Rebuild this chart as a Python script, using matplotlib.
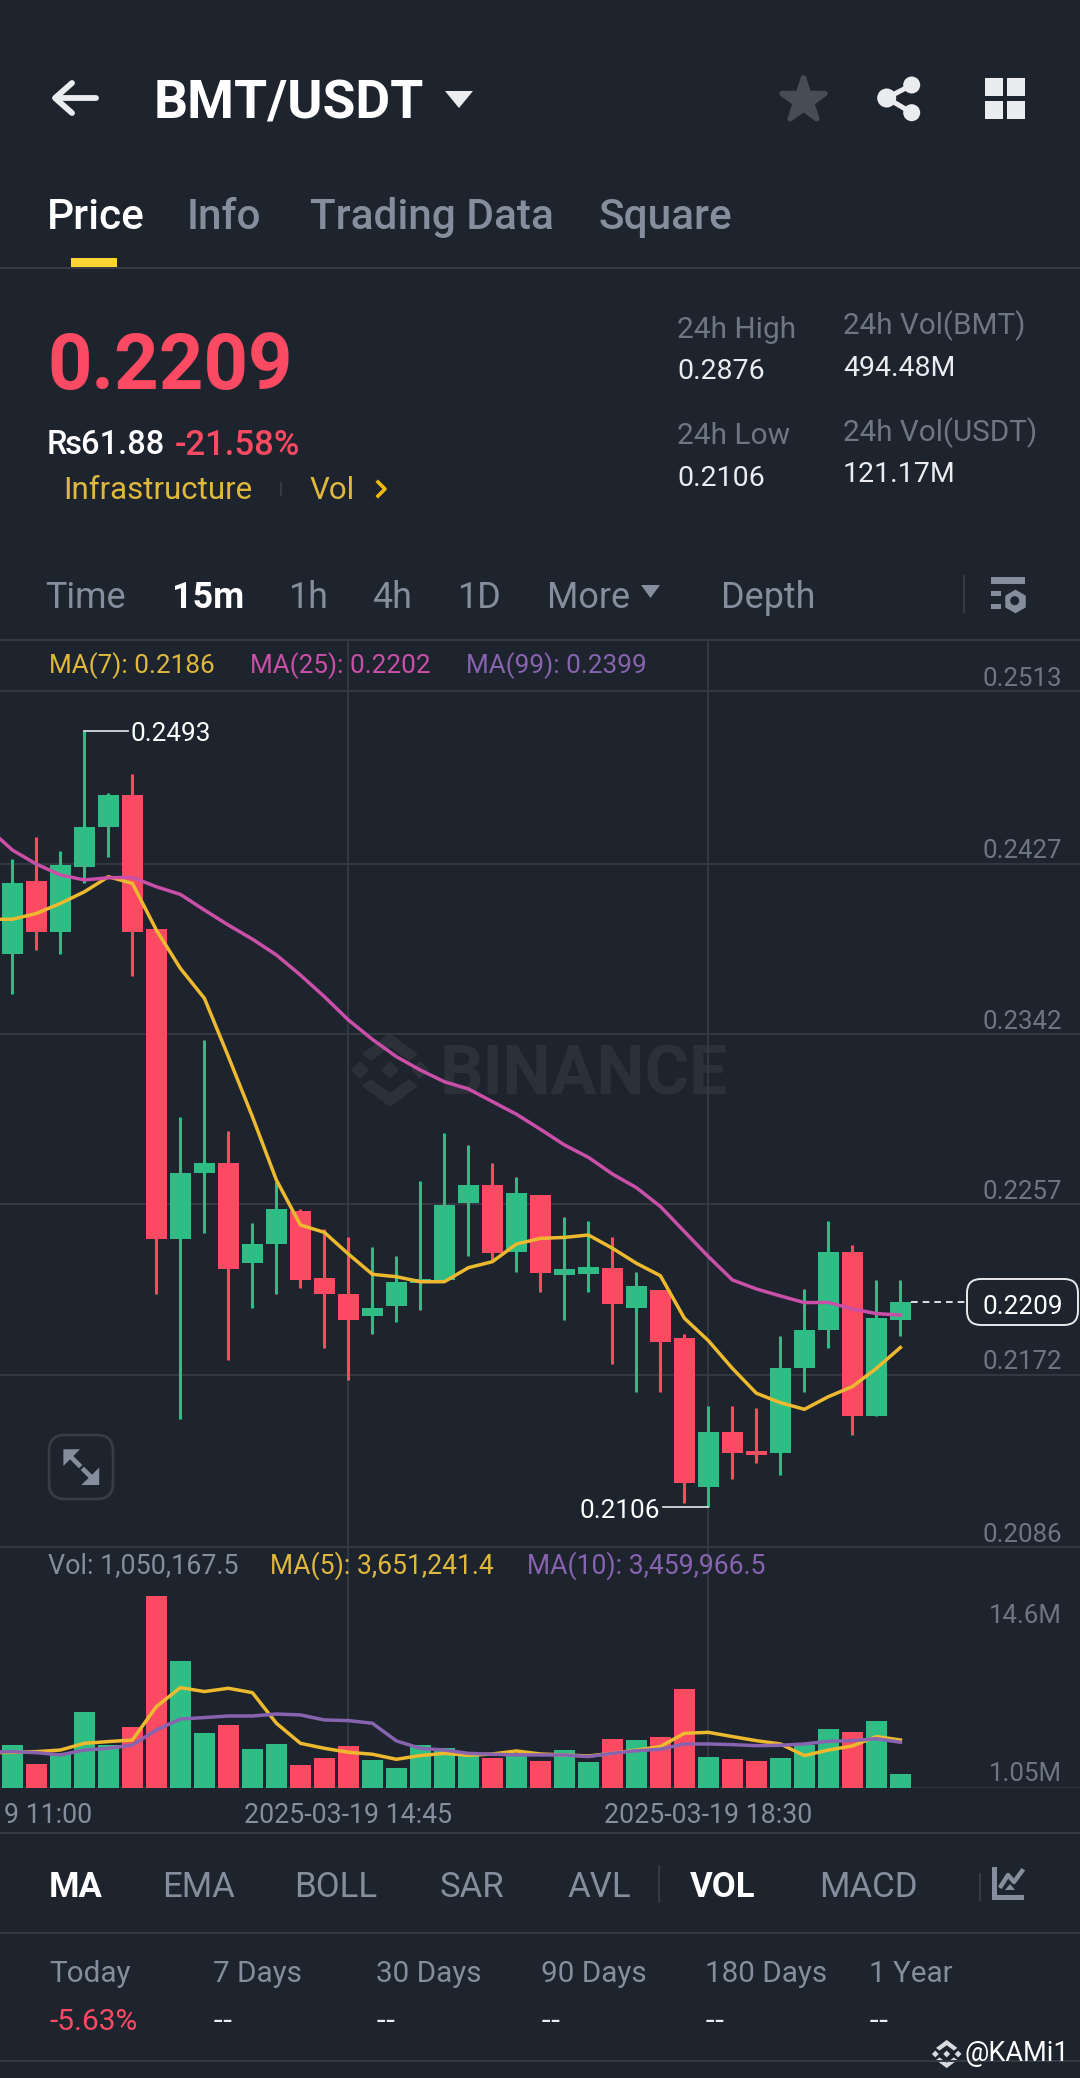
import numpy as np
import matplotlib
matplotlib.use("Agg")
import matplotlib.pyplot as plt
from matplotlib.patches import FancyBboxPatch, Polygon, Circle

plt.rcParams["font.family"] = ["Roboto", "DejaVu Sans"]

# candles (15m)
open_ = [.23819, .24183, .23930, .24252, .24453, .24613, .23942, .22398, .22729, .22777,
         .22277, .22375, .22536, .22205, .22126, .22014, .22066, .22181, .22194, .22576,
         .22666, .22335, .22617, .22217, .22225, .22255, .22056, .22144, .21905, .21163,
         .21434, .21343, .21333, .21755, .21944, .22335, .21514, .21994]
high = [.24292, .24404, .24332, .2493, .24623, .24714, .23942, .23008, .23390, .22938,
        .22476, .22684, .22546, .22446, .22406, .22356, .22315, .22687, .22928, .22867,
        .22777, .22707, .22617, .22508, .22488, .22408, .22235, .22144, .21923, .21564,
        .21564, .21554, .21914, .22147, .22488, .22366, .22194, .22194]
low = [.23619, .23839, .23819, .24171, .24301, .23711, .22124, .21501, .22426, .21795,
       .22054, .22124, .22155, .21855, .21695, .21923, .21984, .22044, .22194, .22315,
       .22285, .22234, .22132, .21994, .22132, .21773, .21635, .21635, .21084, .2106,
       .21202, .21281, .21222, .21635, .21853, .21423, .21514, .21914]
close = [.24171, .23930, .24261, .24453, .24613, .23930, .22398, .22729, .22777, .22247,
         .22375, .22546, .22195, .22126, .21996, .22054, .22185, .22199, .22566, .22666,
         .22327, .22626, .22227, .22247, .22257, .22076, .22165, .21886, .21183, .21434,
         .21333, .21323, .21753, .21944, .22335, .21514, .22004, .22086]

# moving averages start one candle left of the screen
ma7 = [.23992, .23992, .24021, .24071, .24129, .24204, .24171, .23938, .23747, .23598,
       .23307, .23008, .22692, .22468, .22431, .22323, .22222, .2221, .22185, .22185,
       .22255, .22285, .22373, .22401, .22406, .22418, .22352, .22277, .22215, .22003,
       .21891, .21753, .21629, .21582, .21549, .21612, .21662, .21753, .21857]
ma25 = [.24445, .24337, .24267, .24213, .24188, .24199, .24201, .24154, .24116, .24038,
        .23963, .23893, .23814, .23714, .23606, .2349, .23393, .23307, .2324, .23182,
        .23146, .23083, .2302, .22945, .22867, .22805, .22722, .22654, .2256, .22435,
        .2231, .22194, .22149, .22114, .22081, .22082, .22049, .22026, .22019]

# volume in millions
volume = [3.28, 1.84, 2.65, 5.76, 3.28, 4.62, 14.6, 9.62, 4.22, 4.80, 2.96, 3.36, 1.77,
          2.30, 3.23, 2.15, 1.54, 3.28, 3.08, 2.65, 2.30, 2.65, 2.05, 2.90, 2.02, 3.74,
          3.64, 3.92, 7.50, 2.35, 2.25, 2.07, 2.32, 3.28, 4.47, 4.29, 5.10, 1.05]
vol_ma5 = [2.70, 2.72, 2.78, 2.90, 3.41, 3.54, 3.66, 6.19, 7.63, 7.33, 7.58, 7.25, 4.93,
           3.41, 3.03, 2.73, 2.58, 2.20, 2.48, 2.65, 2.50, 2.60, 2.83, 2.60, 2.53, 2.45,
           2.65, 2.90, 3.16, 4.17, 4.24, 3.92, 3.61, 3.36, 2.48, 2.90, 3.21, 3.92, 3.66]
vol_ma10 = [2.73, 2.78, 2.70, 2.53, 2.90, 3.03, 3.28, 4.42, 5.25, 5.36, 5.48, 5.48, 5.63,
            5.56, 5.18, 5.13, 4.93, 3.59, 3.03, 2.90, 2.65, 2.58, 2.53, 2.53, 2.53, 2.40,
            2.65, 2.85, 2.96, 3.36, 3.36, 3.31, 3.23, 3.26, 3.36, 3.56, 3.61, 3.76, 3.49]

price_ticks = [0.2513, 0.2427, 0.2342, 0.2257, 0.2172, 0.2086]
vol_ticks = [14.6, 1.05]
vol_tick_labels = ["14.6M", "1.05M"]
time_ticks = [-1, 14, 29]
time_labels = ["2025-03-19 11:00", "2025-03-19 14:45", "2025-03-19 18:30"]

tabs = ["Price", "Info", "Trading Data", "Square"]
intervals = ["Time", "15m", "1h", "4h", "1D", "More", "Depth"]
indicators = ["MA", "EMA", "BOLL", "SAR", "AVL", "VOL", "MACD"]
periods = ["Today", "7 Days", "30 Days", "90 Days", "180 Days", "1 Year"]
period_values = ["-5.63%", "--", "--", "--", "--", "--"]

BG = "#1E242E"
GREEN = "#2EBD85"
RED = "#FB4A62"
YELLOW = "#F0B90B"
LINE_Y = "#EDB92E"
MAGENTA = "#C94FA8"
PURPLE = "#8863B0"
GRID = "#353B45"
GRAY = "#848E9C"
DIM = "#6F7683"
WHITE = "#FFFFFF"
ICON = "#EAECEF"

W, H = 1080, 2078
fig = plt.figure(figsize=(W / 100, H / 100), dpi=100, facecolor=BG)


def px_axes(top, bottom, z):
    a = fig.add_axes([0, 1 - bottom / H, 1, (bottom - top) / H], zorder=z)
    a.patch.set_visible(False)
    a.axis("off")
    return a


# under layer for the watermark, top layer for the screen furniture
under = px_axes(0, H, 0)
under.set_xlim(0, W)
under.set_ylim(H, 0)
ui = px_axes(0, H, 3)
ui.set_xlim(0, W)
ui.set_ylim(H, 0)


def label(x, y, s, size=22, color=GRAY, ha="left", weight="normal", family=None):
    ui.text(x, y + 6.5, s, fontsize=size, color=color, ha=ha, va="center", fontweight=weight,
            family=family)


def poly(pts, color, a=ui):
    a.add_patch(Polygon(pts, closed=True, facecolor=color, edgecolor="none"))


def logo(cx, cy, k, color, a):
    # exchange mark: three small diamonds and two chevrons
    for dx in (-30, 0, 30):
        poly([(cx + (dx - 9) * k, cy), (cx + dx * k, cy - 9 * k),
              (cx + (dx + 9) * k, cy), (cx + dx * k, cy + 9 * k)], color, a)
    for sign in (-1, 1):
        poly([(cx, cy + sign * 37 * k), (cx + 28 * k, cy + sign * 16 * k),
              (cx + 19 * k, cy + sign * 9 * k), (cx, cy + sign * 23 * k),
              (cx - 19 * k, cy + sign * 9 * k), (cx - 28 * k, cy + sign * 16 * k)], color, a)


# watermark
WM = "#2B3039"
under.text(440, 1076, "BINANCE", fontsize=49, color=WM, fontweight="bold", va="center")
logo(390, 1070, 1, WM, under)

# price panel
xlim = (-12.4 / 24, (W - 12.4) / 24)
ax = px_axes(640, 1547.5, 1)
ax.set_xlim(*xlim)
per_px = (0.2513 - 0.2086) / (1547.5 - 691)
ax.set_ylim(0.2086, 0.2513 + (691 - 640) * per_px)

x = np.arange(len(close))
ma_x = np.arange(-1, len(close))
op, hi, lo, cl = map(np.array, (open_, high, low, close))
colors = [GREEN if c >= o else RED for o, c in zip(op, cl)]

for p in price_ticks:
    ax.axhline(p, color=GRID, lw=1.3, zorder=1)
    ax.text(1062 / W, p + 0.5 * per_px, f"{p:.4f}", transform=ax.get_yaxis_transform(),
            fontsize=18.6, color=DIM, ha="right", va="bottom")
for t in time_ticks:
    ax.axvline(t, color=GRID, lw=1.3, zorder=1)

ax.vlines(x, lo, hi, colors=colors, lw=2.2, zorder=2)
ax.bar(x, np.abs(cl - op), bottom=np.minimum(op, cl), width=0.875, color=colors, zorder=3)
ax.plot(ma_x, ma7, color=LINE_Y, lw=2.5, zorder=4, solid_joinstyle="round")
ax.plot(ma_x, ma25, color=MAGENTA, lw=2.5, zorder=5, solid_joinstyle="round")

# high / low flags
i_hi, i_lo = int(np.argmax(hi)), int(np.argmin(lo))
ax.plot([i_hi, i_hi + 1.83], [hi[i_hi]] * 2, color="#D8DADD", lw=1.3, zorder=6)
ax.text(i_hi + 1.9, hi[i_hi] - 3 * per_px, f"{hi[i_hi]:.4f}", fontsize=18.8, color=WHITE, va="center")
ax.plot([i_lo, i_lo - 1.9], [lo[i_lo]] * 2, color="#D8DADD", lw=1.3, zorder=6)
ax.text(i_lo - 2.0, lo[i_lo] - 4 * per_px, f"{lo[i_lo]:.4f}", fontsize=18.8, color=WHITE, va="center", ha="right")

# last price tag
last = cl[-1]
ax.plot([x[-1] + 0.45, (965 - 12.4) / 24], [last, last], color=WHITE, lw=1.2, ls=(0, (4, 3)), zorder=6)
ui.add_patch(FancyBboxPatch((979, 1291), 87, 22, boxstyle="round,pad=12,rounding_size=14",
                            fc=BG, ec="#E8E9EB", lw=1.4))
label(1023, 1300, f"{last:.4f}", 18.8, WHITE, "center")

# volume panel
vol_per_px = 0.07578
vol = px_axes(1547.5, 1788.3, 1)
vol.set_xlim(*xlim)
vol.set_ylim(0, 240.8 * vol_per_px)
for t in time_ticks:
    vol.axvline(t, color=GRID, lw=1.3, zorder=1)
vol.axhline(0, color=GRID, lw=2, zorder=1)
vol.bar(x, volume, width=0.875, color=colors, zorder=2)
vol.plot(ma_x, vol_ma5, color=LINE_Y, lw=2.5, zorder=3)
vol.plot(ma_x, vol_ma10, color=PURPLE, lw=2.5, zorder=4)
for v, s, off in zip(vol_ticks, vol_tick_labels, (-20, 0)):
    vol.text(1062 / W, v + off * vol_per_px, s, transform=vol.get_yaxis_transform(), fontsize=18.6,
             color=DIM, ha="right", va="center")
for t, s in zip(time_ticks, time_labels):
    vol.text(t, -27 * vol_per_px, s, fontsize=19.3, color=GRAY, ha="center", va="center", clip_on=False)

# separators
for y in (267.5, 640, 1833, 1932.5, 2061):
    ui.plot([0, W], [y, y], color=GRID, lw=1.4)

# header
ui.plot([56, 96], [98, 98], color=ICON, lw=4.2, solid_capstyle="round")
ui.plot([72, 55, 72], [83, 98, 113], color=ICON, lw=4.2, solid_capstyle="round")
label(154, 98, "BMT/USDT", 38.5, WHITE, weight="bold")
poly([(445, 91), (473, 91), (459, 108)], ICON)
ui.scatter([803], [100], marker="*", s=1050, color="#474D57", edgecolors="#474D57", linewidths=4)
share = [(886.7, 98), (911.7, 85), (911.7, 112.7)]
for px, py in share[1:]:
    ui.plot([share[0][0], px], [share[0][1], py], color=ICON, lw=3.6)
ui.add_patch(Circle(share[0], 9.5, color=ICON, lw=0))
for c in share[1:]:
    ui.add_patch(Circle(c, 8.5, color=ICON, lw=0))
for sx in (985, 1007.3):
    for sy in (78.3, 101.3):
        poly([(sx, sy), (sx + 17.6, sy), (sx + 17.6, sy + 17.8), (sx, sy + 17.8)], ICON)

# tabs
for s, tx, c in zip(tabs, (47, 187, 310, 599), (WHITE, GRAY, GRAY, GRAY)):
    label(tx, 211, s, 30.5, c, weight="medium")
poly([(71, 258), (117, 258), (117, 267), (71, 267)], "#FCD535")

# ticker block
label(47, 361, f"{last:.4f}", 56, RED, weight="bold")
label(47, 439, "\u20a861.88", 23.5, WHITE, weight="medium")
label(175, 439, "-21.58%", 25, RED, weight="medium")
label(63, 484, "Infrastructure", 22.5, "#E0B93C")
ui.plot([281, 281], [483, 495], color=GRID, lw=1.5)
label(310, 484, "Vol", 22.5, "#E0B93C")
ui.plot([378, 385, 378], [482, 489, 496], color=YELLOW, lw=2.6)

label(677, 323, "24h High", 21.5, DIM)
label(677, 365, "0.2876", 20.5, ICON)
label(843, 319, "24h Vol(BMT)", 21.3, DIM)
label(843, 362, "494.48M", 20.5, ICON)
label(677, 430, "24h Low", 21.5, DIM)
label(677, 472, "0.2106", 20.5, ICON)
label(843, 426, "24h Vol(USDT)", 21.3, DIM)
label(843, 468, "121.17M", 20.5, ICON)

# interval row
for s, tx in zip(intervals, (45, 172, 288, 372, 457, 547, 721)):
    sel = s == "15m"
    label(tx, 591, s, 25.8, WHITE if sel else GRAY, weight="bold" if sel else "normal")
poly([(641, 585), (660, 585), (650.5, 598)], GRAY)
ui.plot([964, 964], [576, 612], color=GRID, lw=1.5)
poly([(991, 577), (1025, 577), (1025, 583.5), (991, 583.5)], GRAY)
poly([(991, 590.7), (1001, 590.7), (1001, 596), (991, 596)], GRAY)
poly([(991, 604), (1001, 604), (1001, 609.3), (991, 609.3)], GRAY)
ui.scatter([1014.7], [600.7], marker="h", s=290, color=GRAY, linewidths=0)
ui.add_patch(Circle((1014.7, 600.7), 4.5, color=BG, lw=0))

# legends
label(49, 659, f"MA(7): {ma7[-1]:.4f}", 18.8, "#E0B93C")
label(250, 659, f"MA(25): {ma25[-1]:.4f}", 18.8, MAGENTA)
label(466, 659, "MA(99): 0.2399", 18.8, PURPLE)
label(48, 1559, "Vol: 1,050,167.5", 19.4, GRAY)
label(270, 1559, "MA(5): 3,651,241.4", 19.1, "#E0B93C")
label(527, 1559, "MA(10): 3,459,966.5", 19.1, PURPLE)

# expand button
ui.add_patch(FancyBboxPatch((61, 1447), 40, 40, boxstyle="round,pad=12,rounding_size=16",
                            fc="none", ec="#373D47", lw=2))
poly([(63.4, 1449.3), (80, 1449.3), (63.4, 1466)], GRAY)
poly([(99.2, 1485), (81.3, 1485), (99.2, 1467.7)], GRAY)
ui.plot([70, 79], [1456, 1465], color=GRAY, lw=3.4)
ui.plot([84, 93], [1470, 1479], color=GRAY, lw=3.4)

# indicator row
for s, tx in zip(indicators, (49, 162, 294, 440, 567, 690, 819)):
    sel = s in ("MA", "VOL")
    label(tx, 1881, s, 25, WHITE if sel else GRAY, weight="bold" if sel else "normal")
ui.plot([659, 659], [1866, 1902], color=GRID, lw=1.5)
ui.plot([980, 980], [1874, 1900], color=GRID, lw=1.5)
poly([(992, 1867), (997, 1867), (997, 1895), (1024, 1895), (1024, 1900), (992, 1900)], GRAY)
ui.plot([1001, 1008, 1014, 1022], [1886, 1875, 1882, 1871], color=GRAY, lw=3.2)
poly([(1005, 1890), (1015, 1890), (1010, 1884)], GRAY)

# period stats
for s, v, tx in zip(periods, period_values, (49, 213, 376, 541, 705, 869)):
    label(tx, 1967, s, 21.3, GRAY)
    if v == "--":
        label(tx, 2015, v, 21, ICON, family="DejaVu Sans")
    else:
        label(tx, 2015, v, 21.5, RED)

# uploader tag
logo(946.7, 2054, 0.38, "#D8DADF", ui)
label(965, 2047, "@KAMi1", 19.5, WHITE)

fig.savefig("out.png", dpi=100, facecolor=BG)
